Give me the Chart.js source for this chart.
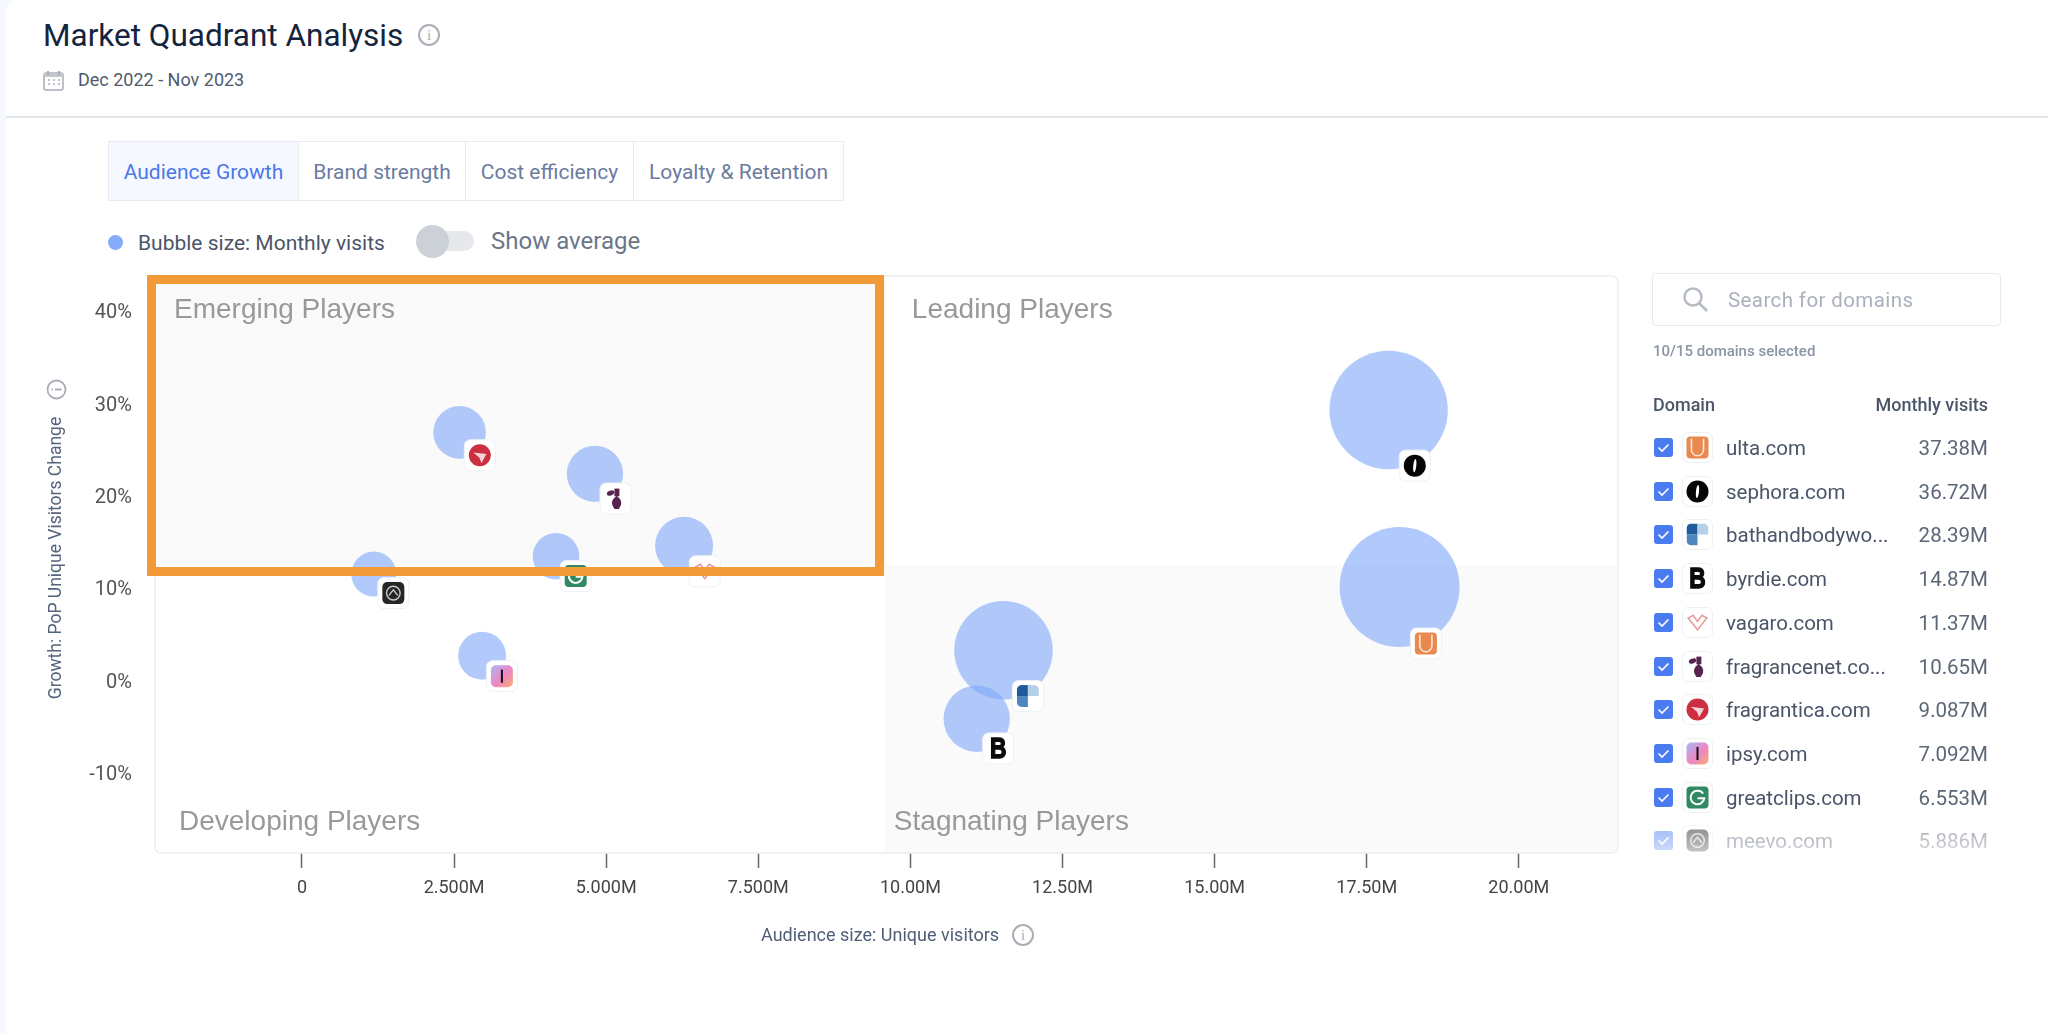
<!DOCTYPE html>
<html>
<head>
<meta charset="utf-8">
<title>Market Quadrant Analysis</title>
<script src="https://cdn.jsdelivr.net/npm/chart.js@4"></script>
<style>
  html, body { margin: 0; padding: 0; background: #f5f8fd; overflow: hidden; }
  body { width: 2048px; height: 1033px; position: relative; font-family: Roboto, sans-serif; }
  #card { position: absolute; left: 6px; top: 0; width: 2042px; height: 1033px; background: #fff; border-top-left-radius: 10px; }
  #chartCanvas { position: absolute; left: 0; top: 0; }
  .abs { position: absolute; white-space: nowrap; line-height: 1; }
  #title { left: 43px; top: 20px; font-size: 31.5px; color: #14243e; }
  #period { left: 78px; top: 71px; font-size: 18px; color: #4f5b6d; }
  #divider { position: absolute; left: 6px; top: 116px; width: 2042px; height: 2px; background: #e3e6ea; }
  #tabs { position: absolute; left: 108px; top: 141px; width: 734px; height: 58px; border: 1px solid #e8ebf0; display: flex; }
  #tabs div { font-size: 21px; color: #6c7ba0; height: 58px; overflow: hidden; line-height: 60px; text-align: center; border-right: 1px solid #e8ebf0; box-sizing: border-box; }
  #tabs div:last-child { border-right: none; }
  #tabs div.active { background: #f5f8fe; color: #4a78ea; }
  #legendDot { position: absolute; left: 108px; top: 235px; width: 15px; height: 15px; border-radius: 50%; background: #86abf9; }
  #legendText { left: 138px; top: 232.5px; font-size: 21px; color: #4a5568; }
  #track { position: absolute; left: 417px; top: 231px; width: 57px; height: 20px; border-radius: 10px; background: #e6e8ec; }
  #knob { position: absolute; left: 416px; top: 225px; width: 33px; height: 33px; border-radius: 50%; background: #ccd1d8; }
  #showAvg { left: 491px; top: 229px; font-size: 24px; color: #6b7688; }
  #yTitle { left: 56px; top: 558px; font-size: 17.5px; color: #56657e; transform: translate(-50%, -50%) rotate(-90deg); }
  #xTitle { left: 761px; top: 926px; font-size: 18px; color: #4f5d75; }
  .info { position: absolute; border: 2px solid #a9aeb6; border-radius: 50%; box-sizing: border-box; color: #a9aeb6; text-align: center; font-family: "Liberation Serif", serif; }
  #highlight { position: absolute; left: 147px; top: 275px; width: 737px; height: 301px; box-sizing: border-box; border: 9px solid #f39a38; }
  #search { position: absolute; left: 1652px; top: 273px; width: 349px; height: 53px; box-sizing: border-box; border: 1px solid #e5e8ec; border-radius: 4px; }
  #searchText { left: 1728px; top: 289.5px; font-size: 20.5px; color: #a9b1bc; letter-spacing: 0.4px; }
  #selected { left: 1653px; top: 343.5px; font-size: 15px; font-weight: 500; color: #8a94a3; }
  #headDomain { left: 1653px; top: 396px; font-size: 18px; font-weight: 500; color: #4a5568; }
  #headVisits { right: 60px; top: 396px; font-size: 18px; font-weight: 500; color: #4a5568; }
  .row { position: absolute; left: 1654px; width: 334px; height: 32px; }
  .check { position: absolute; left: 0; top: 6px; width: 19px; height: 19px; border-radius: 3px; background: #4a7cf0; }
  .logoBox { position: absolute; left: 28px; top: 0; width: 31px; height: 31px; box-sizing: border-box; border: 1px solid #eef0f3; border-radius: 6px; background: #fff; }
  .rowName { position: absolute; left: 72px; top: 6px; font-size: 20.5px; line-height: 1; color: #4a5568; white-space: nowrap; }
  .rowValue { position: absolute; right: 0; top: 6px; font-size: 20.5px; line-height: 1; color: #5b6676; white-space: nowrap; }
</style>
</head>
<body>
<div id="card"></div>
<div id="divider"></div>
<div class="abs" id="title">Market Quadrant Analysis</div>
<div class="info" style="left:418px;top:24px;width:22px;height:22px;font-size:15px;line-height:18px;">i</div>
<svg style="position:absolute;left:43px;top:70px" width="21" height="21" viewBox="0 0 21 21">
  <rect x="1" y="3" width="19" height="17" rx="2" fill="none" stroke="#a9aeb6" stroke-width="1.5"/>
  <rect x="1" y="3" width="19" height="4" fill="#c3c7cd"/>
  <path d="M5 1v4M16 1v4" stroke="#a9aeb6" stroke-width="2"/>
  <path d="M5 10h2M10 10h2M15 10h2M5 14h2M10 14h2M15 14h2" stroke="#a9aeb6" stroke-width="1.5"/>
</svg>
<div class="abs" id="period">Dec 2022 - Nov 2023</div>
<div id="tabs">
  <div class="active" style="width:190px">Audience Growth</div>
  <div style="width:167px">Brand strength</div>
  <div style="width:168px">Cost efficiency</div>
  <div style="width:209px">Loyalty &amp; Retention</div>
</div>
<div id="legendDot"></div>
<div class="abs" id="legendText">Bubble size: Monthly visits</div>
<div id="track"></div>
<div id="knob"></div>
<div class="abs" id="showAvg">Show average</div>

<canvas id="chartCanvas" width="2048" height="1033" style="width:2048px;height:1033px"></canvas>

<div id="highlight"></div>
<div class="abs" id="yTitle">Growth: PoP Unique Visitors Change</div>
<svg style="position:absolute;left:46px;top:379px" width="21" height="21" viewBox="0 0 21 21">
  <circle cx="10.5" cy="10.5" r="9" fill="none" stroke="#a9aeb6" stroke-width="1.8"/>
  <path d="M5.5 10.5h1.5M9 10.5h6.5" stroke="#a9aeb6" stroke-width="1.8"/>
</svg>
<div class="abs" id="xTitle">Audience size: Unique visitors</div>
<div class="info" style="left:1012px;top:924px;width:22px;height:22px;font-size:15px;line-height:18px;">i</div>

<div id="search"></div>
<svg style="position:absolute;left:1682px;top:286px" width="28" height="28" viewBox="0 0 28 28">
  <circle cx="11" cy="11" r="8.5" fill="none" stroke="#b4bbc4" stroke-width="2.5"/>
  <path d="M17 17l8 8" stroke="#b4bbc4" stroke-width="2.5"/>
</svg>
<div class="abs" id="searchText">Search for domains</div>
<div class="abs" id="selected">10/15 domains selected</div>
<div class="abs" id="headDomain">Domain</div>
<div class="abs" id="headVisits">Monthly visits</div>
<div id="rows"></div>
<div style="position:absolute;left:1640px;top:818px;width:360px;height:46px;background:linear-gradient(rgba(255,255,255,0),rgba(255,255,255,.75))"></div>

<script>
// Chart data
const domains = ['ulta.com', 'sephora.com', 'bathandbodywo...', 'byrdie.com', 'vagaro.com', 'fragrancenet.co...', 'fragrantica.com', 'ipsy.com', 'greatclips.com', 'meevo.com'];
const logoKeys = ['ulta', 'sephora', 'bbw', 'byrdie', 'vagaro', 'fragrancenet', 'fragrantica', 'ipsy', 'greatclips', 'meevo'];
const monthlyVisits = [37.38, 36.72, 28.39, 14.87, 11.37, 10.65, 9.087, 7.092, 6.553, 5.886];
const uniqueVisitors = [18.04, 17.86, 11.53, 11.09, 6.28, 4.815, 2.59, 2.96, 4.175, 1.18];
const growthPct = [10.1, 29.26, 3.26, -4.14, 14.56, 22.35, 26.83, 2.67, 13.43, 11.5];

const xTickValues = [0, 2.5, 5, 7.5, 10, 12.5, 15, 17.5, 20];
const xTickLabels = ['0', '2.500M', '5.000M', '7.500M', '10.00M', '12.50M', '15.00M', '17.50M', '20.00M'];
const yTickValues = [-10, 0, 10, 20, 30, 40];

const quadrantNames = ['Emerging Players', 'Leading Players', 'Developing Players', 'Stagnating Players'];
const splitX = 9.58;
const splitY = 12.5;

const bubbleColor = 'rgba(127, 166, 248, 0.6)';

// bubble radius grows with monthly visits
function bubbleRadius(visits) {
  return 15.5 + 1.19 * visits;
}

function roundedPath(ctx, x, y, w, h, r) {
  ctx.beginPath();
  ctx.roundRect(x, y, w, h, r);
}

// Small brand logos, s is the logo size in px
function drawLogo(ctx, key, cx, cy, s) {
  const h = s / 2;
  ctx.save();
  ctx.translate(cx, cy);
  if (key === 'ulta') {
    ctx.fillStyle = '#e8894f';
    roundedPath(ctx, -h, -h, s, s, 4);
    ctx.fill();
    ctx.strokeStyle = '#fbe6d8';
    ctx.lineWidth = 1.6;
    ctx.beginPath();
    ctx.moveTo(-h * 0.55, -h * 0.8);
    ctx.lineTo(-h * 0.55, h * 0.2);
    ctx.arc(0, h * 0.2, h * 0.55, Math.PI, 0, true);
    ctx.lineTo(h * 0.55, -h * 0.8);
    ctx.stroke();
  } else if (key === 'sephora') {
    ctx.fillStyle = '#050505';
    ctx.beginPath();
    ctx.arc(0, 0, h, 0, Math.PI * 2);
    ctx.fill();
    ctx.fillStyle = '#fff';
    ctx.beginPath();
    ctx.ellipse(0, 0, h * 0.14, h * 0.6, 0.1, 0, Math.PI * 2);
    ctx.fill();
  } else if (key === 'bbw') {
    roundedPath(ctx, -h, -h, s, s, 5);
    ctx.save();
    ctx.clip();
    ctx.fillStyle = '#1f5a9a';
    ctx.fillRect(-h, -h, h, h);
    ctx.fillStyle = '#4f86bd';
    ctx.fillRect(-h, 0, h, h);
    ctx.fillStyle = '#b7d0ea';
    ctx.fillRect(0, -h, h, h);
    ctx.restore();
  } else if (key === 'byrdie') {
    ctx.fillStyle = '#0a0a0a';
    ctx.strokeStyle = '#0a0a0a';
    ctx.lineWidth = 1.2;
    ctx.scale(0.95, 1.2);
    ctx.font = 'bold ' + Math.round(s * 1.1) + 'px "Liberation Sans", sans-serif';
    ctx.textAlign = 'center';
    ctx.textBaseline = 'middle';
    ctx.fillText('B', 0, 1);
    ctx.strokeText('B', 0, 1);
  } else if (key === 'vagaro') {
    ctx.strokeStyle = '#e89a9a';
    ctx.lineWidth = 1.6;
    ctx.beginPath();
    ctx.moveTo(-h * 0.85, -h * 0.4);
    ctx.lineTo(-h * 0.4, -h * 0.65);
    ctx.lineTo(0, -h * 0.1);
    ctx.lineTo(h * 0.4, -h * 0.65);
    ctx.lineTo(h * 0.85, -h * 0.4);
    ctx.lineTo(0, h * 0.65);
    ctx.closePath();
    ctx.stroke();
  } else if (key === 'fragrancenet') {
    ctx.fillStyle = '#57234f';
    ctx.beginPath();
    ctx.moveTo(h * 0.1, -h * 0.25);
    ctx.quadraticCurveTo(h * 0.85, h * 0.3, h * 0.3, h * 0.95);
    ctx.lineTo(-h * 0.1, h * 0.95);
    ctx.quadraticCurveTo(-h * 0.65, h * 0.3, h * 0.1, -h * 0.25);
    ctx.fill();
    ctx.beginPath();
    ctx.ellipse(-h * 0.45, -h * 0.5, h * 0.35, h * 0.22, -0.4, 0, Math.PI * 2);
    ctx.fill();
    ctx.fillRect(-h * 0.1, -h * 0.9, h * 0.45, h * 0.7);
  } else if (key === 'fragrantica') {
    ctx.fillStyle = '#cc2f3f';
    ctx.beginPath();
    ctx.arc(0, 0, h, 0, Math.PI * 2);
    ctx.fill();
    ctx.fillStyle = '#f4d6d8';
    ctx.beginPath();
    ctx.moveTo(-h * 0.6, -h * 0.25);
    ctx.lineTo(h * 0.6, -h * 0.1);
    ctx.lineTo(h * 0.15, h * 0.7);
    ctx.lineTo(-h * 0.05, h * 0.2);
    ctx.closePath();
    ctx.fill();
  } else if (key === 'ipsy') {
    const grad = ctx.createLinearGradient(-h, -h, h, h);
    grad.addColorStop(0, '#a9b6f5');
    grad.addColorStop(0.55, '#ee86c4');
    grad.addColorStop(1, '#f7ad6d');
    ctx.fillStyle = grad;
    roundedPath(ctx, -h, -h, s, s, 5);
    ctx.fill();
    ctx.fillStyle = '#111';
    ctx.fillRect(-1, -h * 0.6, 2, h * 1.2);
  } else if (key === 'greatclips') {
    ctx.fillStyle = '#2f8a63';
    roundedPath(ctx, -h, -h, s, s, 4);
    ctx.fill();
    ctx.strokeStyle = '#fff';
    ctx.lineWidth = 2;
    ctx.beginPath();
    ctx.arc(0, 0, h * 0.62, -0.6, 0.1 - Math.PI * 2, true);
    ctx.lineTo(0, h * 0.06);
    ctx.stroke();
  } else if (key === 'meevo') {
    ctx.fillStyle = '#262626';
    roundedPath(ctx, -h, -h, s, s, 5);
    ctx.fill();
    ctx.strokeStyle = '#c9c9c9';
    ctx.lineWidth = 1.4;
    ctx.beginPath();
    ctx.arc(0, 0, h * 0.62, 0, Math.PI * 2);
    ctx.moveTo(-h * 0.4, h * 0.2);
    ctx.lineTo(0, -h * 0.3);
    ctx.lineTo(h * 0.4, h * 0.2);
    ctx.stroke();
  }
  ctx.restore();
}

// White rounded badge with the logo, hanging off the lower right of each bubble
const badgePlugin = {
  id: 'badges',
  afterDatasetsDraw(chart) {
    const ctx = chart.ctx;
    chart.getDatasetMeta(0).data.forEach(function(el, i) {
      const r = bubbleRadius(monthlyVisits[i]);
      const cx = el.x + 15.5 + 0.18 * r;
      const cy = el.y + r - 3.5;
      ctx.save();
      ctx.fillStyle = '#fff';
      ctx.strokeStyle = '#eef0f3';
      ctx.lineWidth = 1;
      roundedPath(ctx, cx - 15.5, cy - 15.5, 31, 31, 6);
      ctx.fill();
      ctx.stroke();
      ctx.restore();
      drawLogo(ctx, logoKeys[i], cx, cy, 22);
    });
  }
};

// Grey quadrants, rounded frame and quadrant names behind the bubbles
const quadrantPlugin = {
  id: 'quadrants',
  beforeDatasetsDraw(chart) {
    const ctx = chart.ctx;
    const a = chart.chartArea;
    const sx = chart.scales.x.getPixelForValue(splitX);
    const sy = chart.scales.y.getPixelForValue(splitY);
    ctx.save();
    roundedPath(ctx, a.left, a.top, a.width, a.height, 6);
    ctx.save();
    ctx.clip();
    ctx.fillStyle = '#fafafa';
    ctx.fillRect(a.left, a.top, sx - a.left, sy - a.top);
    ctx.fillRect(sx, sy, a.right - sx, a.bottom - sy);
    ctx.restore();
    ctx.strokeStyle = '#eceef1';
    ctx.lineWidth = 1.5;
    ctx.stroke();
    ctx.fillStyle = '#999';
    ctx.font = '28px "Liberation Sans", sans-serif';
    ctx.textBaseline = 'middle';
    ctx.fillText(quadrantNames[0], a.left + 19, a.top + 34);
    ctx.fillText(quadrantNames[1], sx + 27, a.top + 34);
    ctx.fillText(quadrantNames[2], a.left + 24, a.bottom - 31);
    ctx.fillText(quadrantNames[3], sx + 9, a.bottom - 31);
    ctx.restore();
  }
};

function initQuadrantChart() {
  new Chart(document.getElementById('chartCanvas').getContext('2d'), {
    type: 'bubble',
    plugins: [quadrantPlugin, badgePlugin],
    data: {
      datasets: [{
        label: 'Monthly visits',
        data: domains.map(function(d, i) {
          return { x: uniqueVisitors[i], y: growthPct[i], r: bubbleRadius(monthlyVisits[i]) };
        }),
        backgroundColor: bubbleColor,
        borderWidth: 0,
        hoverRadius: 0
      }]
    },
    options: {
      responsive: false,
      animation: false,
      clip: false,
      layout: { padding: { left: 0, top: 276, right: 430, bottom: 0 } },
      plugins: {
        legend: { display: false },
        tooltip: { enabled: false }
      },
      scales: {
        x: {
          type: 'linear',
          min: -2.416,
          max: 21.63,
          afterFit: function(scale) { scale.height = 180; },
          afterBuildTicks: function(scale) {
            scale.ticks = xTickValues.map(function(v) { return { value: v }; });
          },
          border: { display: false },
          grid: { drawOnChartArea: false, drawTicks: true, tickLength: 15, tickColor: '#666', tickWidth: 1.5 },
          ticks: {
            autoSkip: false,
            maxRotation: 0,
            padding: 10,
            color: '#444',
            font: { family: 'Roboto', size: 18 },
            callback: function(value) { return xTickLabels[xTickValues.indexOf(value)]; }
          }
        },
        y: {
          type: 'linear',
          min: -18.67,
          max: 43.75,
          afterFit: function(scale) { scale.width = 155; },
          afterBuildTicks: function(scale) {
            scale.ticks = yTickValues.map(function(v) { return { value: v }; });
          },
          border: { display: false },
          grid: { display: false },
          ticks: {
            padding: 15,
            labelOffset: 2.5,
            color: '#555',
            font: { family: 'Roboto', size: 20 },
            callback: function(value) { return value + '%'; }
          }
        }
      }
    }
  });
}

// Domain list on the right
function initDomainList() {
  const rows = document.getElementById('rows');
  domains.forEach(function(name, i) {
    const top = 432 + i * 43.7;
    const faded = i === domains.length - 1;
    const row = document.createElement('div');
    row.className = 'row';
    row.style.top = top + 'px';
    if (faded) row.style.opacity = '0.6';
    row.innerHTML =
      '<div class="check"><svg width="19" height="19" viewBox="0 0 19 19"><path d="M4.5 9.5l3.5 3.5 6.5-6.5" fill="none" stroke="#fff" stroke-width="1.6"/></svg></div>' +
      '<div class="logoBox"><canvas width="29" height="29" style="display:block"></canvas></div>' +
      '<div class="rowName"></div><div class="rowValue"></div>';
    row.querySelector('.rowName').textContent = name;
    row.querySelector('.rowValue').textContent = monthlyVisits[i].toPrecision(4) + 'M';
    rows.appendChild(row);
    drawLogo(row.querySelector('canvas').getContext('2d'), logoKeys[i], 14.5, 14.5, 22);
  });
}

document.addEventListener('DOMContentLoaded', function() {
  initQuadrantChart();
  initDomainList();
});
</script>
</body>
</html>
